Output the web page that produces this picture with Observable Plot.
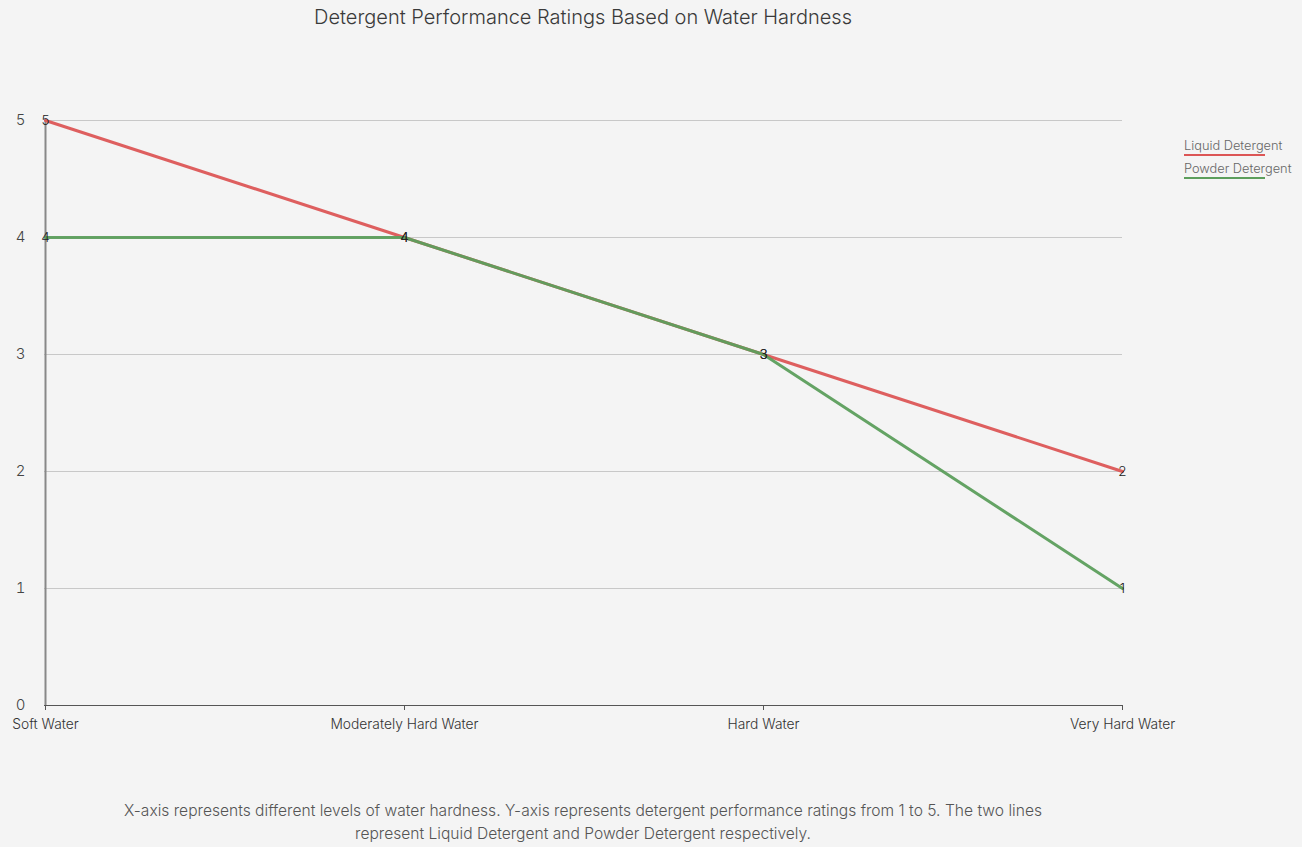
<!DOCTYPE html>
<html>
<head>
<meta charset="utf-8">
<script src="https://cdn.jsdelivr.net/npm/d3@7"></script>
<script src="https://cdn.jsdelivr.net/npm/@observablehq/plot@0.6"></script>
<style>
  html, body { margin: 0; padding: 0; background: #f4f4f4; }
  body { width: 1302px; height: 847px; position: relative; overflow: hidden;
         font-family: Inter, "Open Sans", sans-serif; }
  #title { height: 40px; width: 1166px; text-align: center; font-size: 20px;
           font-weight: 300; color: #3a3a3a; line-height: 34px; }
  #caption { width: 1166px; text-align: center; font-size: 15.6px; font-weight: 300;
             color: #555; line-height: 23px; margin-top: -1px; }
  #legend { position: absolute; left: 1184px; top: 139px; font-size: 12.8px;
            font-weight: 300; color: #666; }
  #legend .label { line-height: 14px; white-space: nowrap; }
  #legend .swatch { width: 81px; height: 2px; margin-top: 1px; margin-bottom: 6px; }
</style>
</head>
<body>
<div id="title">Detergent Performance Ratings Based on Water Hardness</div>
<div id="chart"></div>
<div id="caption">X-axis represents different levels of water hardness. Y-axis represents detergent performance ratings from 1 to 5. The two lines<br>represent Liquid Detergent and Powder Detergent respectively.</div>
<div id="legend"></div>
<script>
// Water hardness levels along the x axis
const hardness = ["Soft Water", "Moderately Hard Water", "Hard Water", "Very Hard Water"];
// Performance ratings per detergent type
const liquidRatings = [5, 4, 3, 2];
const powderRatings = [4, 4, 3, 1];
const seriesNames = ["Liquid Detergent", "Powder Detergent"];
const seriesColors = ["#dc5656", "#5c9e5c"];
const yTicks = [0, 1, 2, 3, 4, 5];

const rows = [
  ...hardness.map((h, i) => ({level: h, rating: liquidRatings[i], series: seriesNames[0]})),
  ...hardness.map((h, i) => ({level: h, rating: powderRatings[i], series: seriesNames[1]}))
];

const chart = Plot.plot({
  width: 1302,
  height: 760,
  marginTop: 80,
  marginBottom: 95,
  marginLeft: 44,
  marginRight: 180,
  style: {background: "transparent", fontFamily: "Inter, 'Open Sans', sans-serif", fontWeight: 300},
  x: {type: "point", domain: hardness, padding: 0, label: null},
  y: {domain: [0, 5], label: null},
  color: {domain: seriesNames, range: seriesColors},
  marks: [
    Plot.gridY(yTicks.filter(d => d > 0), {stroke: "#c8c8c8", strokeOpacity: 1, strokeWidth: 1}),
    Plot.axisY({ticks: yTicks, tickFormat: d3.format("d"), tickSize: 0, tickPadding: 19, fontSize: 15, fill: "#444", label: null}),
    Plot.axisX({tickSize: 5, tickPadding: 9, fontSize: 13.8, fill: "#333", stroke: "#555", label: null}),
    Plot.ruleY([0], {stroke: "#555", strokeWidth: 1.2}),
    Plot.ruleX([hardness[0]], {y1: 0, y2: 5, stroke: "#888", strokeWidth: 2}),
    Plot.line(rows, {x: "level", y: "rating", z: "series", stroke: "series", strokeWidth: 3, strokeOpacity: 0.95}),
    Plot.text(rows, {x: "level", y: "rating", text: d => String(d.rating), fill: "#222", fontSize: 13.5, fontWeight: 300})
  ]
});
document.getElementById("chart").appendChild(chart);

// Legend entries: label with a fixed-width coloured bar beneath
const legend = d3.select("#legend");
seriesNames.forEach((name, i) => {
  legend.append("div").attr("class", "label").text(name);
  legend.append("div").attr("class", "swatch").style("background", seriesColors[i]);
});
</script>
</body>
</html>
